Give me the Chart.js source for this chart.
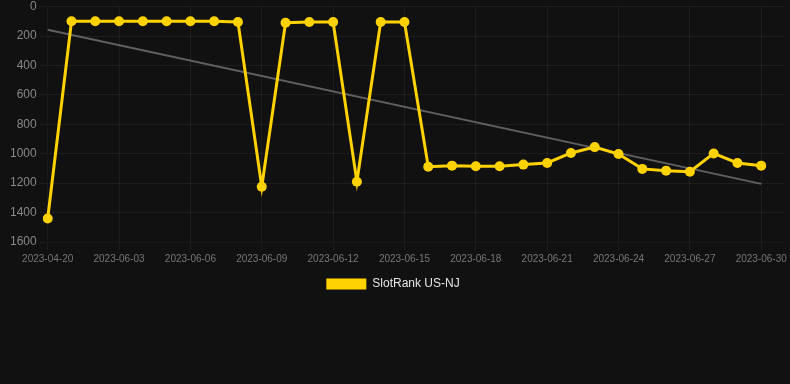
<!DOCTYPE html>
<html>
<head>
<meta charset="utf-8">
<script src="https://cdn.jsdelivr.net/npm/chart.js@4/dist/chart.umd.min.js"></script>
<style>
    html, body { margin: 0; padding: 0; background: #111111; }
    .chart-wrap { position: relative; width: 790px; height: 300px; }
</style>
</head>
<body>
<div class="chart-wrap"><canvas id="rankChart"></canvas></div>
<script>
// ==========================================
// DATA
// ==========================================

const dates = [
    '2023-04-20', '2023-06-01', '2023-06-02', '2023-06-03', '2023-06-04', '2023-06-05',
    '2023-06-06', '2023-06-07', '2023-06-08', '2023-06-09', '2023-06-10', '2023-06-11',
    '2023-06-12', '2023-06-13', '2023-06-14', '2023-06-15', '2023-06-16', '2023-06-17',
    '2023-06-18', '2023-06-19', '2023-06-20', '2023-06-21', '2023-06-22', '2023-06-23',
    '2023-06-24', '2023-06-25', '2023-06-26', '2023-06-27', '2023-06-28', '2023-06-29',
    '2023-06-30', ''
];

const rankNJ = [
    1440, 100, 100, 100, 100, 100, 100, 100, 105, 1225, 110, 105,
    105, 1190, 105, 105, 1088, 1081, 1085, 1085, 1074, 1063, 995, 955,
    1002, 1103, 1115, 1122, 998, 1063, 1081
];

// trend line, read at its two ends
const trend = [158, null, null, null, null, null, null, null, null, null, null, null,
    null, null, null, null, null, null, null, null, null, null, null, null,
    null, null, null, null, null, null, 1205];

const yTicks = { min: 0, max: 1600, step: 200 };

// ==========================================
// CHART
// ==========================================

const ctx = document.getElementById('rankChart').getContext('2d');
new Chart(ctx, {
    type: 'line',
    data: {
        labels: dates,
        datasets: [{
            label: 'SlotRank US-NJ',
            data: rankNJ,
            borderColor: '#ffd200',
            backgroundColor: '#ffd200',
            borderWidth: 3,
            pointRadius: 5,
            pointBackgroundColor: '#ffd200',
            pointBorderWidth: 0,
            tension: 0
        }, {
            label: 'trend',
            data: trend,
            spanGaps: true,
            borderColor: 'rgba(160,160,160,0.55)',
            borderWidth: 2,
            pointRadius: 0,
            tension: 0
        }]
    },
    options: {
        responsive: true,
        maintainAspectRatio: false,
        animation: false,
        layout: { padding: { right: 4 } },
        plugins: {
            legend: {
                position: 'bottom',
                labels: {
                    color: '#e6e6e6',
                    font: { family: 'Liberation Sans', size: 12 },
                    boxWidth: 40,
                    boxHeight: 11,
                    generateLabels: chart => Chart.defaults.plugins.legend.labels.generateLabels(chart)
                        .filter(item => item.text !== 'trend')
                        .map(item => Object.assign(item, { lineWidth: 0 }))
                }
            },
            tooltip: { enabled: false }
        },
        scales: {
            x: {
                grid: { color: 'rgba(255,255,255,0.05)' },
                ticks: {
                    color: '#777777',
                    font: { family: 'Liberation Sans', size: 10 },
                    maxRotation: 0,
                    autoSkip: true,
                    callback: function(value, index) {
                        return index % 3 === 0 ? this.getLabelForValue(value) : null;
                    }
                }
            },
            y: {
                reverse: true,
                min: yTicks.min,
                max: yTicks.max,
                grid: { color: 'rgba(255,255,255,0.05)' },
                afterFit: scale => { scale.width += 7; },
                ticks: {
                    stepSize: yTicks.step,
                    color: '#888888',
                    font: { family: 'Liberation Sans', size: 12, lineHeight: 0.6 },
                    callback: value => String(value)
                }
            }
        }
    }
});
</script>
</body>
</html>
